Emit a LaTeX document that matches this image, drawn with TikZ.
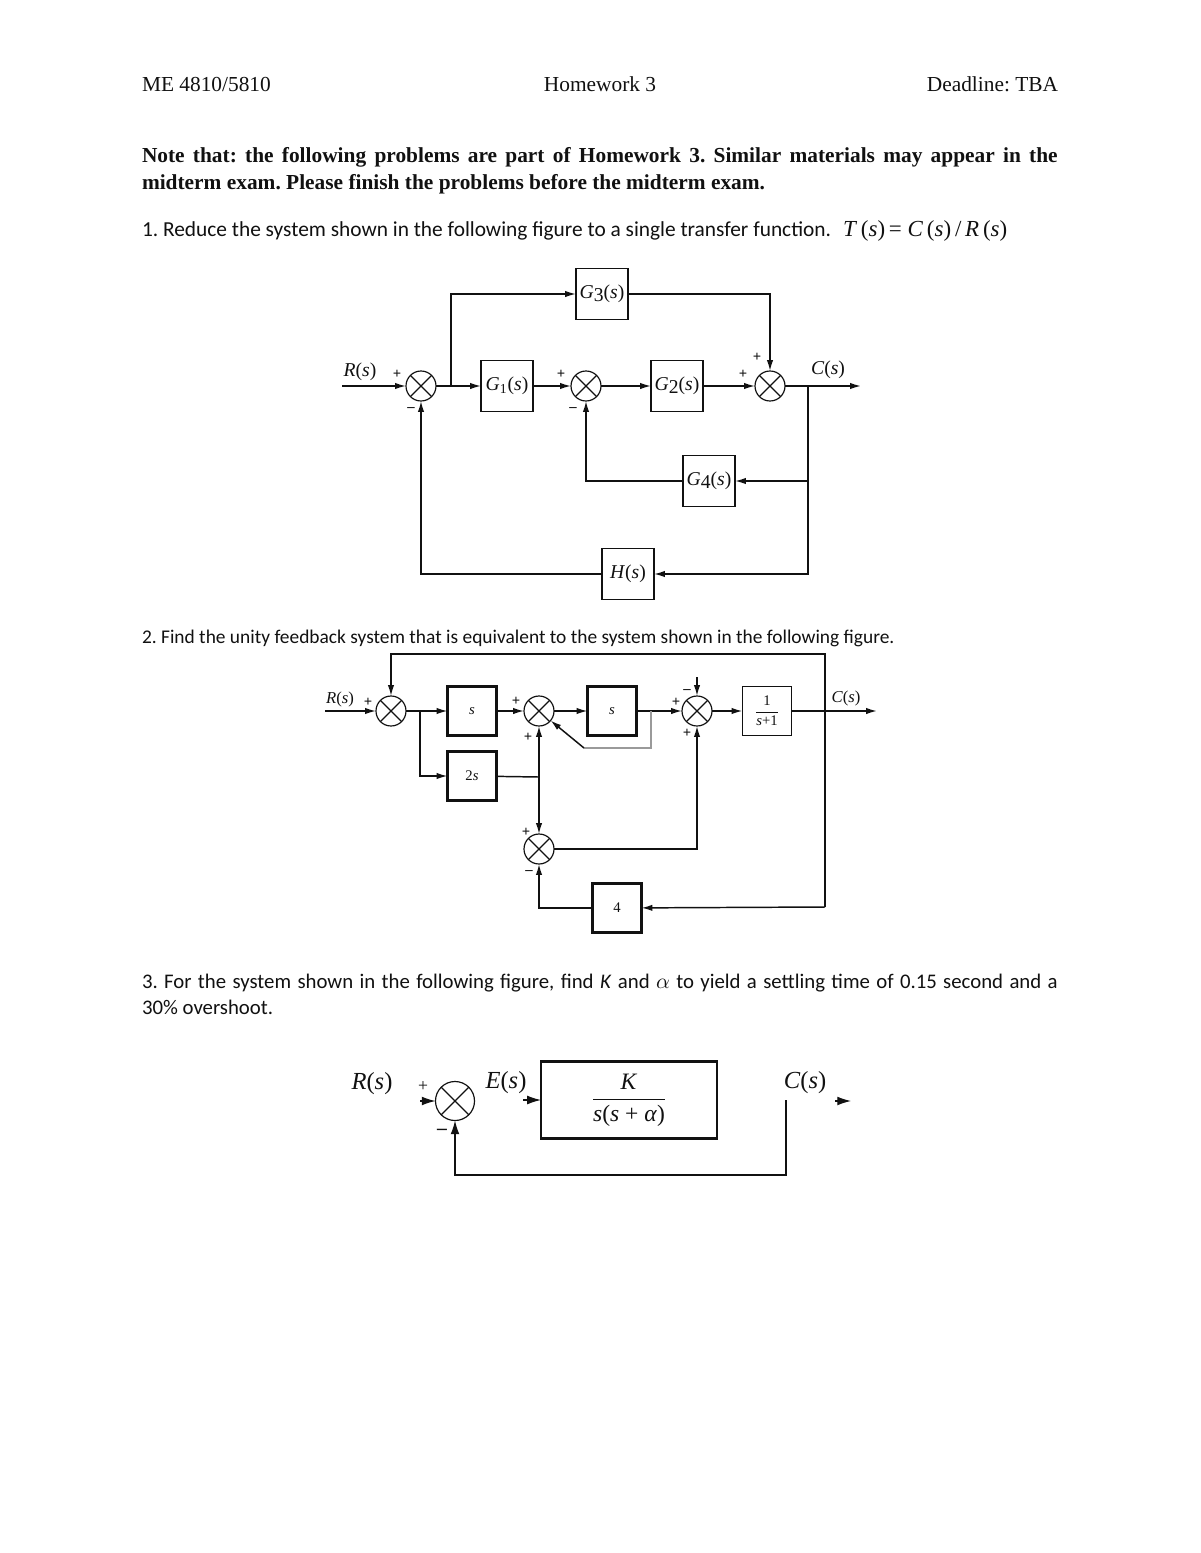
\documentclass[tikz,border=0pt]{standalone}
\usepackage{fontspec}
\setmainfont{Liberation Serif}
\newfontfamily\qfont{Carlito}
\usetikzlibrary{arrows.meta,positioning,calc}
\definecolor{InkBlack}{HTML}{111111}
\definecolor{LoopGray}{HTML}{9A9A9A}
\newcommand{\iv}[1]{\textit{#1}}
\frenchspacing

\begin{document}
\begin{tikzpicture}[x=0.51pt,y=-0.51pt,
    every node/.style={inner sep=0pt,outer sep=0pt,text=InkBlack},
    blk/.style={draw=InkBlack,line width=0.75pt,minimum width=26.5pt,minimum height=26pt,font=\fontsize{10}{12}\selectfont},
    blkb/.style={draw=InkBlack,line width=1.2pt,minimum width=25pt,minimum height=25pt,font=\fontsize{7.5}{9}\selectfont},
    blkk/.style={draw=InkBlack,line width=1.4pt,minimum width=89.8pt,minimum height=39.3pt,font=\fontsize{12}{14}\selectfont},
    sumj/.style={circle,draw=InkBlack,line width=0.6pt,minimum size=15.3pt,
      path picture={\draw[line width=0.6pt] (path picture bounding box.north west) -- (path picture bounding box.south east)
        (path picture bounding box.north east) -- (path picture bounding box.south west);}},
    sumk/.style={sumj,minimum size=19.9pt},
    ln/.style={line width=0.75pt,InkBlack},
    arr/.style={-{Latex[length=5.5pt,width=3.2pt]},line width=0.75pt,InkBlack},
    arrk/.style={-{Latex[length=7pt,width=4.5pt]},line width=0.6pt,InkBlack},
    sgn/.style={font=\fontsize{7.5}{8}\selectfont\bfseries},
    lbl/.style={font=\fontsize{10}{12}\selectfont},
    lbls/.style={font=\fontsize{8.5}{10}\selectfont},
    lblk/.style={font=\fontsize{12.5}{14}\selectfont},
    txt/.style={anchor=base west,font=\fontsize{10.9}{13}\selectfont}
  ]
    \fill[white] (0,0) rectangle (1200,1553);
    \useasboundingbox (0,0) rectangle (1200,1553);

    \node[txt] (hleft) at (142,92) {ME 4810/5810};
    \node[txt,anchor=base] (hmid) at (600,92) {Homework 3};
    \node[txt,anchor=base east] (hright) at (1058,92) {Deadline: TBA};
    \node[txt,font=\fontsize{10.9}{13}\selectfont\bfseries] (note1) at (142,163)
      {\makebox[467pt][s]{Note that: the following problems are part of Homework 3. Similar materials may appear in the}};
    \node[txt,font=\fontsize{10.9}{13}\selectfont\bfseries] (note2) at (142,190)
      {midterm exam. Please finish the problems before the midterm exam.};
    \node[txt,font=\qfont\fontsize{10.9}{12}\selectfont] (q1) at (142,236)
      {1. Reduce the system shown in the following figure to a single transfer function.};
    \node[txt,font=\fontsize{11.7}{14}\selectfont] (q1tf) at (843,236)
      {\iv{T}\,(\iv{s})\,= \iv{C}\,(\iv{s})\,/\,\iv{R}\,(\iv{s})};

    \node[sumj] (s1) at (421,386) {};
    \node[sumj] (s2) at (586,386) {};
    \node[sumj] (s3) at (770,386) {};
    \node[blk] (g1) at (507,386) {\iv{G}\textsubscript{1}(\iv{s})};
    \node[blk] (g2) at (677,386) {\iv{G}\raisebox{-1.5pt}{2}(\iv{s})};
    \node[blk] (g3) at (602,294) {\iv{G}\raisebox{-1.5pt}{3}(\iv{s})};
    \node[blk] (g4) at (709,481) {\iv{G}\raisebox{-1.5pt}{4}(\iv{s})};
    \node[blk] (h) at (628,574) {\iv{H}(\iv{s})};
    \coordinate (rin) at (342,386);
    \coordinate (cout) at (861,386);
    \coordinate (b1) at (451,386);
    \coordinate (b2) at (808,386);
    \draw[arr] (rin) -- (s1);
    \draw[ln] (s1) -- (b1);
    \draw[arr] (b1) -- (g1);
    \draw[arr] (b1) |- (g3);
    \draw[arr] (g1) -- (s2);
    \draw[arr] (s2) -- (g2);
    \draw[arr] (g2) -- (s3);
    \draw[arr] (g3) -| (s3);
    \draw[arr] (s3) -- (cout);
    \draw[arr] (b2) |- (g4);
    \draw[arr] (b2) |- (h);
    \draw[arr] (g4) -| (s2);
    \draw[arr] (h) -| (s1);
    \node[lbl] (rlab) at (360,372) {\iv{R}(\iv{s})};
    \node[lbl] (clab) at (828,370) {\iv{C}(\iv{s})};
    \node[sgn] (p1) at (397,374) {+};
    \node[sgn] (m1) at (411,410) {--};
    \node[sgn] (p2) at (561,374) {+};
    \node[sgn] (m2) at (573,410) {--};
    \node[sgn] (p3) at (743,374) {+};
    \node[sgn] (p4) at (757,357) {+};

    \node[txt,font=\qfont\fontsize{9.9}{11}\selectfont] (q2) at (142,643)
      {2. Find the unity feedback system that is equivalent to the system shown in the following figure.};

    \node[sumj] (sa) at (391,711) {};
    \node[sumj] (sb) at (539,711) {};
    \node[sumj] (sc) at (697,711) {};
    \node[sumj] (sd) at (539,849) {};
    \node[blkb] (ks1) at (472,711) {\iv{s}};
    \node[blkb] (k2s) at (472,776) {2\iv{s}};
    \node[blkb] (ks2) at (612,711) {\iv{s}};
    \node[blkb,line width=0.9pt] (kf) at (767,711) {$\displaystyle\frac{\mbox{1}}{\mbox{\iv{s}+1}}$};
    \node[blkb] (k4) at (617,908) {4};
    \coordinate (rin2) at (325,711);
    \coordinate (cout2) at (877,711);
    \coordinate (ba) at (420,711);
    \coordinate (ctop) at (825,654);
    \coordinate (cbot) at (825,907);
    \coordinate (bg) at (651,711);
    \coordinate (gc1) at (651,748);
    \coordinate (gc2) at (584,748);
    \coordinate (jb) at (539,777);
    \coordinate (scin) at (697,677);
    \draw[arr] (rin2) -- (sa);
    \draw[ln] (sa) -- (ba);
    \draw[arr] (ba) -- (ks1);
    \draw[arr] (ba) |- (k2s);
    \draw[arr] (ks1) -- (sb);
    \draw[arr] (sb) -- (ks2);
    \draw[arr] (ks2) -- (sc);
    \draw[arr] (sc) -- (kf);
    \draw[arr] (kf) -- (cout2);
    \draw[arr] (cbot) -- (ctop) -| (sa);
    \draw[line width=0.75pt,LoopGray] (bg) -- (gc1) -- (gc2);
    \draw[arr] (gc2) -- (sb);
    \draw[ln] (k2s) -- (jb);
    \draw[arr] (jb) -- (sb);
    \draw[arr] (jb) -- (sd);
    \draw[arr] (sd) -| (sc);
    \draw[arr] (scin) -- (sc);
    \draw[arr] (cbot) -- (k4);
    \draw[arr] (k4) -| (sd);
    \node[lbls] (rlab2) at (340,699) {\iv{R}(\iv{s})};
    \node[lbls] (clab2) at (846,698) {\iv{C}(\iv{s})};
    \node[sgn] (pa) at (368,702) {+};
    \node[sgn] (pb1) at (516,701) {+};
    \node[sgn] (pb2) at (528,737) {+};
    \node[sgn] (mc) at (687,692) {--};
    \node[sgn] (pc1) at (676,702) {+};
    \node[sgn] (pc2) at (687,733) {+};
    \node[sgn] (pd) at (526,832) {+};
    \node[sgn] (md) at (529,873) {--};

    \node[txt,font=\qfont\fontsize{10.6}{12}\selectfont] (q3a) at (142,988)
      {\makebox[467pt][s]{3. For the system shown in the following figure, find \iv{K} and $\alpha$ to yield a settling time of 0.15 second and a}};
    \node[txt,font=\qfont\fontsize{10.6}{12}\selectfont] (q3b) at (142,1014) {30\% overshoot.};

    \node[sumk] (se) at (455,1101) {};
    \node[blkk] (kp) at (629,1100) {$\displaystyle\frac{\mbox{\iv{K}}}{\mbox{\iv{s}(\iv{s} + \iv{α})}}$};
    \coordinate (ri3) at (420,1101);
    \coordinate (ei3) at (523,1100);
    \coordinate (co3) at (835,1101);
    \coordinate (ce3) at (851,1101);
    \coordinate (cb3) at (786,1100);
    \coordinate (fb3) at (786,1175);
    \draw[arrk] (ri3) -- (se);
    \draw[arrk] (ei3) -- (kp);
    \draw[arrk] (co3) -- (ce3);
    \draw[arrk] (cb3) -- (fb3) -| (se);
    \node[lblk] (rlab3) at (372,1084) {\iv{R}(\iv{s})};
    \node[lblk] (elab3) at (506,1083) {\iv{E}(\iv{s})};
    \node[lblk] (clab3) at (805,1083) {\iv{C}(\iv{s})};
    \node[sgn,font=\fontsize{9}{10}\selectfont] (p3k) at (423,1087) {+};
    \node[sgn,font=\fontsize{10}{10}\selectfont\bfseries] (m3k) at (442,1132) {--};
  \end{tikzpicture}
\end{document}
